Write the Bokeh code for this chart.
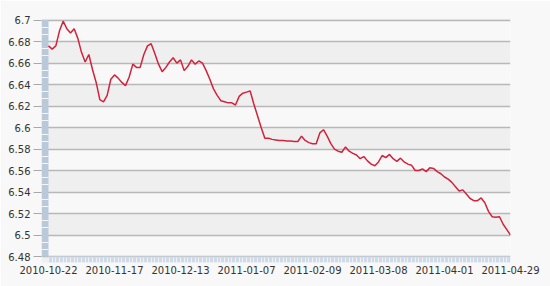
from bokeh.plotting import figure
from bokeh.models import FixedTicker, Range1d
from bokeh.embed import file_html
from bokeh.resources import INLINE

# USD/CNY central parity, trading days 2010-10-22 .. 2011-04-29
rates = [
    6.676, 6.673, 6.676, 6.690, 6.699, 6.692, 6.688, 6.692, 6.683, 6.670,
    6.661, 6.668, 6.654, 6.642, 6.626, 6.624, 6.630, 6.645, 6.649, 6.646,
    6.642, 6.639, 6.647, 6.659, 6.656, 6.656, 6.668, 6.676, 6.678, 6.669,
    6.659, 6.652, 6.656, 6.661, 6.665, 6.660, 6.663, 6.653, 6.657, 6.663,
    6.659, 6.662, 6.660, 6.653, 6.645, 6.636, 6.630, 6.625, 6.624, 6.623,
    6.623, 6.621, 6.629, 6.632, 6.633, 6.634, 6.622, 6.611, 6.600, 6.590,
    6.590, 6.589, 6.5885, 6.588, 6.588, 6.5875, 6.5875, 6.587, 6.587, 6.592,
    6.588, 6.586, 6.585, 6.585, 6.595, 6.598, 6.592, 6.585, 6.580, 6.578,
    6.577, 6.582, 6.578, 6.576, 6.5745, 6.571, 6.573, 6.569, 6.566, 6.5645,
    6.568, 6.574, 6.572, 6.575, 6.571, 6.5685, 6.5715, 6.568, 6.566, 6.565,
    6.560, 6.560, 6.5615, 6.559, 6.5625, 6.562, 6.559, 6.557, 6.554, 6.552,
    6.549, 6.545, 6.541, 6.542, 6.538, 6.534, 6.532, 6.532, 6.5345, 6.530,
    6.522, 6.517, 6.5165, 6.517, 6.510, 6.505, 6.500,
]
x_tick_pos = [0, 18, 36, 54, 72, 90, 108, 126]
x_tick_labels = ["2010-10-22", "2010-11-17", "2010-12-13", "2011-01-07",
                 "2011-02-09", "2011-03-08", "2011-04-01", "2011-04-29"]
y_tick_labels = ["6.48", "6.5", "6.52", "6.54", "6.56", "6.58", "6.6",
                 "6.62", "6.64", "6.66", "6.68", "6.7"]

y_ticks = [float(s) for s in y_tick_labels]
n = len(rates)
idx = list(range(n))

px_per_idx = 469 / (n - 1 + 7 / 3.667)
x_start = -(7 / px_per_idx)
y_lo, y_hi = y_ticks[0], y_ticks[-1]
tick_step = y_ticks[1] - y_ticks[0]
y_start = y_lo - 0.00558
y_end = y_hi + 0.0015

p = figure(width=550, height=286, output_backend="svg", toolbar_location=None,
           x_range=Range1d(x_start, n - 1), y_range=Range1d(y_start, y_end),
           min_border_left=41, min_border_right=40, min_border_top=18,
           min_border_bottom=24)
p.background_fill_color = "#f8f8f8"
p.border_fill_color = "#f8f8f8"
p.outline_line_color = None

# grid and bands (extra tick below the range flips band parity)
p.xgrid.visible = False
p.ygrid.ticker = FixedTicker(ticks=[y_lo - tick_step] + y_ticks)
p.ygrid.grid_line_color = "#b8b8b8"
p.ygrid.grid_line_width = 1.5
p.ygrid.band_fill_color = "#efefef"
p.ygrid.band_fill_alpha = 1.0

# axis bars
p.quad(left=[x_start], right=[0], bottom=[y_lo], top=[y_hi],
       fill_color="#b9c9da", line_color=None)
p.quad(left=[0], right=[n - 1], bottom=[y_start], top=[y_lo],
       fill_color="#cfdbe8", line_color=None)

# data line
p.line(idx, rates, line_color="#d0233c", line_width=1.5)

# y axis
step = tick_step / 3
y_minor = []
for t in y_ticks[:-1]:
    y_minor += [t + step, t + 2 * step]
yax = p.yaxis[0]
yax.ticker = FixedTicker(ticks=y_ticks, minor_ticks=y_minor)
yax.major_label_overrides = {t: s for t, s in zip(y_ticks, y_tick_labels)}
yax.axis_line_color = None
yax.major_tick_in = 0
yax.major_tick_out = 8
yax.major_tick_line_color = "#a8a8a8"
yax.minor_tick_in = 7
yax.minor_tick_out = 0
yax.minor_tick_line_color = "#f4f7fa"
yax.major_label_standoff = 3
yax.major_label_text_font = "DejaVu Sans"
yax.major_label_text_font_size = "10px"
yax.major_label_text_color = "#333333"

# x axis
xax = p.xaxis[0]
xax.ticker = FixedTicker(ticks=x_tick_pos, minor_ticks=idx)
xax.major_label_overrides = {t: s for t, s in zip(x_tick_pos, x_tick_labels)}
xax.axis_line_color = None
xax.major_tick_in = 0
xax.major_tick_out = 0
xax.minor_tick_in = 5
xax.minor_tick_out = 0
xax.minor_tick_line_color = "#eef3f8"
xax.major_label_standoff = 3
xax.major_label_text_font = "DejaVu Sans"
xax.major_label_text_font_size = "10px"
xax.major_label_text_color = "#333333"

open("out.html", "w").write(file_html(p, INLINE))
